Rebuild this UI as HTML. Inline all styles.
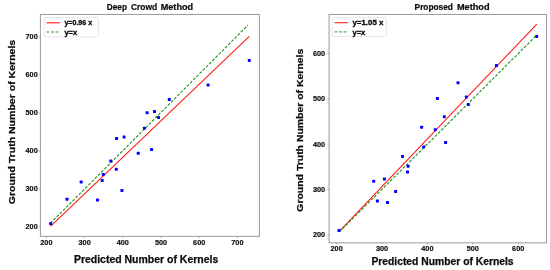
<!DOCTYPE html>
<html lang="en"><head><meta charset="utf-8"><title>Deep Crowd Method vs Proposed Method</title>
<style>html,body{margin:0;padding:0;background:#fff;}body{width:550px;height:270px;overflow:hidden;}svg{display:block;}text{font-family:"Liberation Sans", Arial, sans-serif;font-weight:bold;fill:#0c0c0c;stroke:#0c0c0c;stroke-width:0.25px;}.tk{font-size:7.9px;stroke-width:0.17px;}.ax{font-size:10.3px;}.ay{font-size:9.9px;}.tt{font-size:8.4px;stroke-width:0.22px;}.lg{font-size:7.7px;stroke-width:0.35px;}</style></head><body>
<svg width="550" height="270" viewBox="0 0 550 270">
<rect x="0" y="0" width="550" height="270" fill="#ffffff"/>
<g>
<line x1="50.50" y1="226.30" x2="249.30" y2="36.40" stroke="#ff1414" stroke-width="1.05"/>
<line x1="50.30" y1="223.40" x2="248.10" y2="25.00" stroke="#128a12" stroke-width="1.05" stroke-dasharray="2.9,1.6"/>
<rect x="49.20" y="222.00" width="3" height="3" rx="0.6" fill="#0000ff"/>
<rect x="65.50" y="197.70" width="3" height="3" rx="0.6" fill="#0000ff"/>
<rect x="79.70" y="180.60" width="3" height="3" rx="0.6" fill="#0000ff"/>
<rect x="96.00" y="198.60" width="3" height="3" rx="0.6" fill="#0000ff"/>
<rect x="100.70" y="178.90" width="3" height="3" rx="0.6" fill="#0000ff"/>
<rect x="101.80" y="172.90" width="3" height="3" rx="0.6" fill="#0000ff"/>
<rect x="114.80" y="167.80" width="3" height="3" rx="0.6" fill="#0000ff"/>
<rect x="109.30" y="159.60" width="3" height="3" rx="0.6" fill="#0000ff"/>
<rect x="120.40" y="188.90" width="3" height="3" rx="0.6" fill="#0000ff"/>
<rect x="115.10" y="137.10" width="3" height="3" rx="0.6" fill="#0000ff"/>
<rect x="122.60" y="135.50" width="3" height="3" rx="0.6" fill="#0000ff"/>
<rect x="136.70" y="151.80" width="3" height="3" rx="0.6" fill="#0000ff"/>
<rect x="150.10" y="148.00" width="3" height="3" rx="0.6" fill="#0000ff"/>
<rect x="142.90" y="126.70" width="3" height="3" rx="0.6" fill="#0000ff"/>
<rect x="145.60" y="111.20" width="3" height="3" rx="0.6" fill="#0000ff"/>
<rect x="153.00" y="110.00" width="3" height="3" rx="0.6" fill="#0000ff"/>
<rect x="157.00" y="115.90" width="3" height="3" rx="0.6" fill="#0000ff"/>
<rect x="167.80" y="98.00" width="3" height="3" rx="0.6" fill="#0000ff"/>
<rect x="206.60" y="83.50" width="3" height="3" rx="0.6" fill="#0000ff"/>
<rect x="247.80" y="58.90" width="3" height="3" rx="0.6" fill="#0000ff"/>
<rect x="40.40" y="14.45" width="219.00" height="221.90" fill="none" stroke="#9a9a9a" stroke-width="1"/>
<line x1="46.40" y1="236.35" x2="46.40" y2="237.95" stroke="#8c8c8c" stroke-width="0.7"/>
<text class="tk" x="46.40" y="244.80" text-anchor="middle" textLength="12.2" lengthAdjust="spacingAndGlyphs">200</text>
<line x1="84.60" y1="236.35" x2="84.60" y2="237.95" stroke="#8c8c8c" stroke-width="0.7"/>
<text class="tk" x="84.60" y="244.80" text-anchor="middle" textLength="12.2" lengthAdjust="spacingAndGlyphs">300</text>
<line x1="122.80" y1="236.35" x2="122.80" y2="237.95" stroke="#8c8c8c" stroke-width="0.7"/>
<text class="tk" x="122.80" y="244.80" text-anchor="middle" textLength="12.2" lengthAdjust="spacingAndGlyphs">400</text>
<line x1="161.00" y1="236.35" x2="161.00" y2="237.95" stroke="#8c8c8c" stroke-width="0.7"/>
<text class="tk" x="161.00" y="244.80" text-anchor="middle" textLength="12.2" lengthAdjust="spacingAndGlyphs">500</text>
<line x1="199.20" y1="236.35" x2="199.20" y2="237.95" stroke="#8c8c8c" stroke-width="0.7"/>
<text class="tk" x="199.20" y="244.80" text-anchor="middle" textLength="12.2" lengthAdjust="spacingAndGlyphs">600</text>
<line x1="237.40" y1="236.35" x2="237.40" y2="237.95" stroke="#8c8c8c" stroke-width="0.7"/>
<text class="tk" x="237.40" y="244.80" text-anchor="middle" textLength="12.2" lengthAdjust="spacingAndGlyphs">700</text>
<line x1="38.80" y1="226.90" x2="40.40" y2="226.90" stroke="#8c8c8c" stroke-width="0.7"/>
<text class="tk" x="37.70" y="229.40" text-anchor="end" textLength="12.2" lengthAdjust="spacingAndGlyphs">200</text>
<line x1="38.80" y1="188.90" x2="40.40" y2="188.90" stroke="#8c8c8c" stroke-width="0.7"/>
<text class="tk" x="37.70" y="191.40" text-anchor="end" textLength="12.2" lengthAdjust="spacingAndGlyphs">300</text>
<line x1="38.80" y1="150.90" x2="40.40" y2="150.90" stroke="#8c8c8c" stroke-width="0.7"/>
<text class="tk" x="37.70" y="153.40" text-anchor="end" textLength="12.2" lengthAdjust="spacingAndGlyphs">400</text>
<line x1="38.80" y1="112.90" x2="40.40" y2="112.90" stroke="#8c8c8c" stroke-width="0.7"/>
<text class="tk" x="37.70" y="115.40" text-anchor="end" textLength="12.2" lengthAdjust="spacingAndGlyphs">500</text>
<line x1="38.80" y1="74.90" x2="40.40" y2="74.90" stroke="#8c8c8c" stroke-width="0.7"/>
<text class="tk" x="37.70" y="77.40" text-anchor="end" textLength="12.2" lengthAdjust="spacingAndGlyphs">600</text>
<line x1="38.80" y1="36.90" x2="40.40" y2="36.90" stroke="#8c8c8c" stroke-width="0.7"/>
<text class="tk" x="37.70" y="39.40" text-anchor="end" textLength="12.2" lengthAdjust="spacingAndGlyphs">700</text>
<text class="tt" y="10.30"><tspan x="106.80" textLength="20.20" lengthAdjust="spacingAndGlyphs">Deep</tspan> <tspan x="130.90" textLength="26.20" lengthAdjust="spacingAndGlyphs">Crowd</tspan> <tspan x="160.70" textLength="32.40" lengthAdjust="spacingAndGlyphs">Method</tspan></text>
<rect x="44.10" y="17.60" width="54.30" height="19.30" rx="1.2" fill="#ffffff" fill-opacity="0.8" stroke="#dcdcdc" stroke-width="0.7"/>
<line x1="46.50" y1="22.80" x2="59.90" y2="22.80" stroke="#ff1a1a" stroke-width="1.1"/>
<line x1="46.50" y1="32.00" x2="58.70" y2="32.00" stroke="#2f9a2f" stroke-width="1.0" stroke-dasharray="2.9,1.6"/>
<text class="lg" x="64.40" y="25.30" textLength="27.70" lengthAdjust="spacingAndGlyphs">y=0.96 x</text>
<text class="lg" x="64.40" y="34.60" textLength="12.8" lengthAdjust="spacingAndGlyphs">y=x</text>
<text class="ax" x="73.90" y="262.90" textLength="144.40" lengthAdjust="spacingAndGlyphs">Predicted Number of Kernels</text>
<text class="ay" transform="translate(14.50,122.00) rotate(-90)" text-anchor="middle" textLength="164.40" lengthAdjust="spacingAndGlyphs">Ground Truth Number of Kernels</text>
</g>
<g>
<line x1="339.10" y1="231.60" x2="536.80" y2="24.20" stroke="#ff1414" stroke-width="1.05"/>
<line x1="339.20" y1="232.00" x2="536.60" y2="35.30" stroke="#128a12" stroke-width="1.05" stroke-dasharray="2.9,1.6"/>
<rect x="337.50" y="229.00" width="3" height="3" rx="0.6" fill="#0000ff"/>
<rect x="372.20" y="179.80" width="3" height="3" rx="0.6" fill="#0000ff"/>
<rect x="382.90" y="177.60" width="3" height="3" rx="0.6" fill="#0000ff"/>
<rect x="375.90" y="199.50" width="3" height="3" rx="0.6" fill="#0000ff"/>
<rect x="386.00" y="201.00" width="3" height="3" rx="0.6" fill="#0000ff"/>
<rect x="394.10" y="189.90" width="3" height="3" rx="0.6" fill="#0000ff"/>
<rect x="406.00" y="170.60" width="3" height="3" rx="0.6" fill="#0000ff"/>
<rect x="406.60" y="164.70" width="3" height="3" rx="0.6" fill="#0000ff"/>
<rect x="401.00" y="154.90" width="3" height="3" rx="0.6" fill="#0000ff"/>
<rect x="422.20" y="145.40" width="3" height="3" rx="0.6" fill="#0000ff"/>
<rect x="420.10" y="125.70" width="3" height="3" rx="0.6" fill="#0000ff"/>
<rect x="433.80" y="128.20" width="3" height="3" rx="0.6" fill="#0000ff"/>
<rect x="444.10" y="141.00" width="3" height="3" rx="0.6" fill="#0000ff"/>
<rect x="435.90" y="97.00" width="3" height="3" rx="0.6" fill="#0000ff"/>
<rect x="442.80" y="115.20" width="3" height="3" rx="0.6" fill="#0000ff"/>
<rect x="456.50" y="81.30" width="3" height="3" rx="0.6" fill="#0000ff"/>
<rect x="464.80" y="95.40" width="3" height="3" rx="0.6" fill="#0000ff"/>
<rect x="466.80" y="102.90" width="3" height="3" rx="0.6" fill="#0000ff"/>
<rect x="494.90" y="64.10" width="3" height="3" rx="0.6" fill="#0000ff"/>
<rect x="535.20" y="34.90" width="3" height="3" rx="0.6" fill="#0000ff"/>
<rect x="329.10" y="14.45" width="217.40" height="228.40" fill="none" stroke="#9a9a9a" stroke-width="1"/>
<line x1="336.60" y1="242.85" x2="336.60" y2="244.45" stroke="#8c8c8c" stroke-width="0.7"/>
<text class="tk" x="336.60" y="251.20" text-anchor="middle" textLength="12.2" lengthAdjust="spacingAndGlyphs">200</text>
<line x1="382.00" y1="242.85" x2="382.00" y2="244.45" stroke="#8c8c8c" stroke-width="0.7"/>
<text class="tk" x="382.00" y="251.20" text-anchor="middle" textLength="12.2" lengthAdjust="spacingAndGlyphs">300</text>
<line x1="427.40" y1="242.85" x2="427.40" y2="244.45" stroke="#8c8c8c" stroke-width="0.7"/>
<text class="tk" x="427.40" y="251.20" text-anchor="middle" textLength="12.2" lengthAdjust="spacingAndGlyphs">400</text>
<line x1="472.80" y1="242.85" x2="472.80" y2="244.45" stroke="#8c8c8c" stroke-width="0.7"/>
<text class="tk" x="472.80" y="251.20" text-anchor="middle" textLength="12.2" lengthAdjust="spacingAndGlyphs">500</text>
<line x1="518.20" y1="242.85" x2="518.20" y2="244.45" stroke="#8c8c8c" stroke-width="0.7"/>
<text class="tk" x="518.20" y="251.20" text-anchor="middle" textLength="12.2" lengthAdjust="spacingAndGlyphs">600</text>
<line x1="327.50" y1="234.75" x2="329.10" y2="234.75" stroke="#8c8c8c" stroke-width="0.7"/>
<text class="tk" x="325.10" y="237.25" text-anchor="end" textLength="12.2" lengthAdjust="spacingAndGlyphs">200</text>
<line x1="327.50" y1="189.42" x2="329.10" y2="189.42" stroke="#8c8c8c" stroke-width="0.7"/>
<text class="tk" x="325.10" y="191.92" text-anchor="end" textLength="12.2" lengthAdjust="spacingAndGlyphs">300</text>
<line x1="327.50" y1="144.09" x2="329.10" y2="144.09" stroke="#8c8c8c" stroke-width="0.7"/>
<text class="tk" x="325.10" y="146.59" text-anchor="end" textLength="12.2" lengthAdjust="spacingAndGlyphs">400</text>
<line x1="327.50" y1="98.76" x2="329.10" y2="98.76" stroke="#8c8c8c" stroke-width="0.7"/>
<text class="tk" x="325.10" y="101.26" text-anchor="end" textLength="12.2" lengthAdjust="spacingAndGlyphs">500</text>
<line x1="327.50" y1="53.43" x2="329.10" y2="53.43" stroke="#8c8c8c" stroke-width="0.7"/>
<text class="tk" x="325.10" y="55.93" text-anchor="end" textLength="12.2" lengthAdjust="spacingAndGlyphs">600</text>
<text class="tt" y="10.00"><tspan x="414.60" textLength="38.30" lengthAdjust="spacingAndGlyphs">Proposed</tspan> <tspan x="456.90" textLength="32.60" lengthAdjust="spacingAndGlyphs">Method</tspan></text>
<rect x="332.20" y="17.50" width="54.10" height="19.00" rx="1.2" fill="#ffffff" fill-opacity="0.8" stroke="#dcdcdc" stroke-width="0.7"/>
<line x1="334.60" y1="22.70" x2="348.00" y2="22.70" stroke="#ff1a1a" stroke-width="1.1"/>
<line x1="334.60" y1="31.90" x2="346.80" y2="31.90" stroke="#2f9a2f" stroke-width="1.0" stroke-dasharray="2.9,1.6"/>
<text class="lg" x="352.50" y="25.20" textLength="30.80" lengthAdjust="spacingAndGlyphs">y=1.05 x</text>
<text class="lg" x="352.50" y="34.50" textLength="12.8" lengthAdjust="spacingAndGlyphs">y=x</text>
<text class="ax" x="371.40" y="265.30" textLength="142.20" lengthAdjust="spacingAndGlyphs">Predicted Number of Kernels</text>
<text class="ay" transform="translate(302.80,130.20) rotate(-90)" text-anchor="middle" textLength="163.00" lengthAdjust="spacingAndGlyphs">Ground Truth Number of Kernels</text>
</g>
</svg></body></html>
